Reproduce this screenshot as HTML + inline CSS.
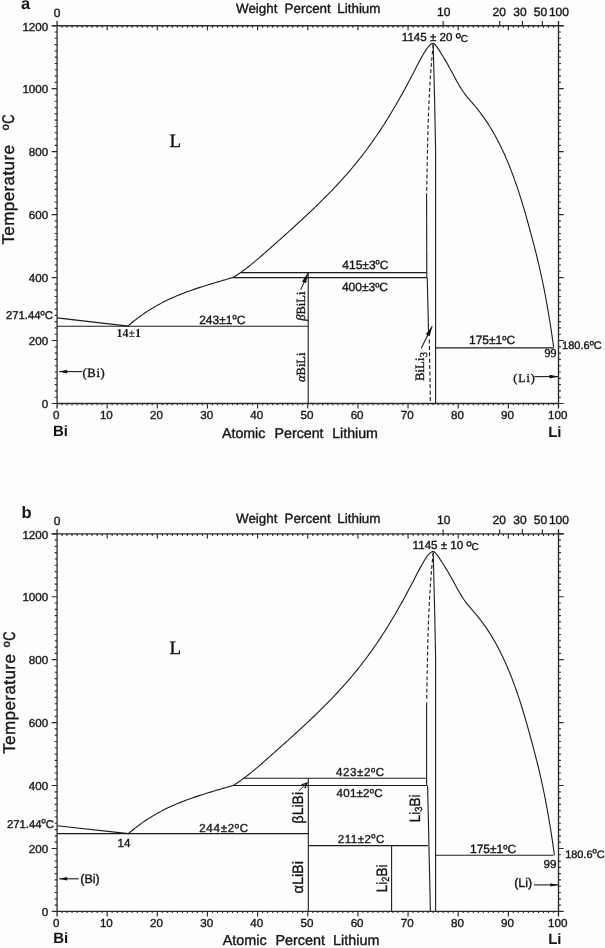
<!DOCTYPE html>
<html><head><meta charset="utf-8"><title>Bi-Li phase diagram</title>
<style>
html,body{margin:0;padding:0;background:#fdfdfd;width:605px;height:948px;overflow:hidden}
svg{display:block}
text{fill:#141414;stroke:#141414;stroke-width:0.36px;text-rendering:geometricPrecision}
text[font-weight=bold]{stroke-width:0}
</style>
</head><body>
<svg width="605" height="948" viewBox="0 0 605 948" font-family="Liberation Sans, Arial, sans-serif">
<rect width="605" height="948" fill="#fdfdfd"/>
<g stroke="#2b2b2b" fill="none">
<path d="M57.1,21.1 L57.1,408.5" stroke="#5c5c5c" stroke-width="1.7"/>
<path d="M558.5,21.1 L558.5,408.5 M51.7,25.7 L563.7,25.7 M57,403.5 L558.5,403.5" stroke-width="1.35"/>
<path d="M51.7,403.5 L57,403.5 M558.5,403.5 L563.7,403.5 M54.7,397.2 L57,397.2 M558.5,397.2 L560.9,397.2 M54.7,390.91 L57,390.91 M558.5,390.91 L560.9,390.91 M54.7,384.61 L57,384.61 M558.5,384.61 L560.9,384.61 M54.7,378.31 L57,378.31 M558.5,378.31 L560.9,378.31 M54.7,372.02 L57,372.02 M558.5,372.02 L560.9,372.02 M54.7,365.72 L57,365.72 M558.5,365.72 L560.9,365.72 M54.7,359.42 L57,359.42 M558.5,359.42 L560.9,359.42 M54.7,353.13 L57,353.13 M558.5,353.13 L560.9,353.13 M54.7,346.83 L57,346.83 M558.5,346.83 L560.9,346.83 M51.7,340.53 L57,340.53 M558.5,340.53 L563.7,340.53 M54.7,334.24 L57,334.24 M558.5,334.24 L560.9,334.24 M54.7,327.94 L57,327.94 M558.5,327.94 L560.9,327.94 M54.7,321.64 L57,321.64 M558.5,321.64 L560.9,321.64 M54.7,315.35 L57,315.35 M558.5,315.35 L560.9,315.35 M54.7,309.05 L57,309.05 M558.5,309.05 L560.9,309.05 M54.7,302.75 L57,302.75 M558.5,302.75 L560.9,302.75 M54.7,296.46 L57,296.46 M558.5,296.46 L560.9,296.46 M54.7,290.16 L57,290.16 M558.5,290.16 L560.9,290.16 M54.7,283.86 L57,283.86 M558.5,283.86 L560.9,283.86 M51.7,277.57 L57,277.57 M558.5,277.57 L563.7,277.57 M54.7,271.27 L57,271.27 M558.5,271.27 L560.9,271.27 M54.7,264.97 L57,264.97 M558.5,264.97 L560.9,264.97 M54.7,258.68 L57,258.68 M558.5,258.68 L560.9,258.68 M54.7,252.38 L57,252.38 M558.5,252.38 L560.9,252.38 M54.7,246.08 L57,246.08 M558.5,246.08 L560.9,246.08 M54.7,239.79 L57,239.79 M558.5,239.79 L560.9,239.79 M54.7,233.49 L57,233.49 M558.5,233.49 L560.9,233.49 M54.7,227.19 L57,227.19 M558.5,227.19 L560.9,227.19 M54.7,220.9 L57,220.9 M558.5,220.9 L560.9,220.9 M51.7,214.6 L57,214.6 M558.5,214.6 L563.7,214.6 M54.7,208.3 L57,208.3 M558.5,208.3 L560.9,208.3 M54.7,202.01 L57,202.01 M558.5,202.01 L560.9,202.01 M54.7,195.71 L57,195.71 M558.5,195.71 L560.9,195.71 M54.7,189.41 L57,189.41 M558.5,189.41 L560.9,189.41 M54.7,183.12 L57,183.12 M558.5,183.12 L560.9,183.12 M54.7,176.82 L57,176.82 M558.5,176.82 L560.9,176.82 M54.7,170.52 L57,170.52 M558.5,170.52 L560.9,170.52 M54.7,164.23 L57,164.23 M558.5,164.23 L560.9,164.23 M54.7,157.93 L57,157.93 M558.5,157.93 L560.9,157.93 M51.7,151.63 L57,151.63 M558.5,151.63 L563.7,151.63 M54.7,145.34 L57,145.34 M558.5,145.34 L560.9,145.34 M54.7,139.04 L57,139.04 M558.5,139.04 L560.9,139.04 M54.7,132.74 L57,132.74 M558.5,132.74 L560.9,132.74 M54.7,126.45 L57,126.45 M558.5,126.45 L560.9,126.45 M54.7,120.15 L57,120.15 M558.5,120.15 L560.9,120.15 M54.7,113.85 L57,113.85 M558.5,113.85 L560.9,113.85 M54.7,107.56 L57,107.56 M558.5,107.56 L560.9,107.56 M54.7,101.26 L57,101.26 M558.5,101.26 L560.9,101.26 M54.7,94.96 L57,94.96 M558.5,94.96 L560.9,94.96 M51.7,88.67 L57,88.67 M558.5,88.67 L563.7,88.67 M54.7,82.37 L57,82.37 M558.5,82.37 L560.9,82.37 M54.7,76.07 L57,76.07 M558.5,76.07 L560.9,76.07 M54.7,69.78 L57,69.78 M558.5,69.78 L560.9,69.78 M54.7,63.48 L57,63.48 M558.5,63.48 L560.9,63.48 M54.7,57.18 L57,57.18 M558.5,57.18 L560.9,57.18 M54.7,50.89 L57,50.89 M558.5,50.89 L560.9,50.89 M54.7,44.59 L57,44.59 M558.5,44.59 L560.9,44.59 M54.7,38.29 L57,38.29 M558.5,38.29 L560.9,38.29 M54.7,32 L57,32 M558.5,32 L560.9,32 M51.7,25.7 L57,25.7 M558.5,25.7 L563.7,25.7 M62.02,403.5 L62.02,405.2 M62.02,25.7 L62.02,27.8 M67.03,403.5 L67.03,405.2 M67.03,25.7 L67.03,27.8 M72.05,403.5 L72.05,405.2 M72.05,25.7 L72.05,27.8 M77.06,403.5 L77.06,405.2 M77.06,25.7 L77.06,27.8 M82.08,403.5 L82.08,405.2 M82.08,25.7 L82.08,27.8 M87.09,403.5 L87.09,405.2 M87.09,25.7 L87.09,27.8 M92.1,403.5 L92.1,405.2 M92.1,25.7 L92.1,27.8 M97.12,403.5 L97.12,405.2 M97.12,25.7 L97.12,27.8 M102.13,403.5 L102.13,405.2 M102.13,25.7 L102.13,27.8 M107.15,403.5 L107.15,408.5 M107.15,25.7 L107.15,30.3 M112.16,403.5 L112.16,405.2 M112.16,25.7 L112.16,27.8 M117.18,403.5 L117.18,405.2 M117.18,25.7 L117.18,27.8 M122.19,403.5 L122.19,405.2 M122.19,25.7 L122.19,27.8 M127.21,403.5 L127.21,405.2 M127.21,25.7 L127.21,27.8 M132.22,403.5 L132.22,405.2 M132.22,25.7 L132.22,27.8 M137.24,403.5 L137.24,405.2 M137.24,25.7 L137.24,27.8 M142.25,403.5 L142.25,405.2 M142.25,25.7 L142.25,27.8 M147.27,403.5 L147.27,405.2 M147.27,25.7 L147.27,27.8 M152.28,403.5 L152.28,405.2 M152.28,25.7 L152.28,27.8 M157.3,403.5 L157.3,408.5 M157.3,25.7 L157.3,30.3 M162.31,403.5 L162.31,405.2 M162.31,25.7 L162.31,27.8 M167.33,403.5 L167.33,405.2 M167.33,25.7 L167.33,27.8 M172.34,403.5 L172.34,405.2 M172.34,25.7 L172.34,27.8 M177.36,403.5 L177.36,405.2 M177.36,25.7 L177.36,27.8 M182.38,403.5 L182.38,405.2 M182.38,25.7 L182.38,27.8 M187.39,403.5 L187.39,405.2 M187.39,25.7 L187.39,27.8 M192.41,403.5 L192.41,405.2 M192.41,25.7 L192.41,27.8 M197.42,403.5 L197.42,405.2 M197.42,25.7 L197.42,27.8 M202.44,403.5 L202.44,405.2 M202.44,25.7 L202.44,27.8 M207.45,403.5 L207.45,408.5 M207.45,25.7 L207.45,30.3 M212.47,403.5 L212.47,405.2 M212.47,25.7 L212.47,27.8 M217.48,403.5 L217.48,405.2 M217.48,25.7 L217.48,27.8 M222.5,403.5 L222.5,405.2 M222.5,25.7 L222.5,27.8 M227.51,403.5 L227.51,405.2 M227.51,25.7 L227.51,27.8 M232.53,403.5 L232.53,405.2 M232.53,25.7 L232.53,27.8 M237.54,403.5 L237.54,405.2 M237.54,25.7 L237.54,27.8 M242.56,403.5 L242.56,405.2 M242.56,25.7 L242.56,27.8 M247.57,403.5 L247.57,405.2 M247.57,25.7 L247.57,27.8 M252.59,403.5 L252.59,405.2 M252.59,25.7 L252.59,27.8 M257.6,403.5 L257.6,408.5 M257.6,25.7 L257.6,30.3 M262.62,403.5 L262.62,405.2 M262.62,25.7 L262.62,27.8 M267.63,403.5 L267.63,405.2 M267.63,25.7 L267.63,27.8 M272.64,403.5 L272.64,405.2 M272.64,25.7 L272.64,27.8 M277.66,403.5 L277.66,405.2 M277.66,25.7 L277.66,27.8 M282.68,403.5 L282.68,405.2 M282.68,25.7 L282.68,27.8 M287.69,403.5 L287.69,405.2 M287.69,25.7 L287.69,27.8 M292.71,403.5 L292.71,405.2 M292.71,25.7 L292.71,27.8 M297.72,403.5 L297.72,405.2 M297.72,25.7 L297.72,27.8 M302.74,403.5 L302.74,405.2 M302.74,25.7 L302.74,27.8 M307.75,403.5 L307.75,408.5 M307.75,25.7 L307.75,30.3 M312.76,403.5 L312.76,405.2 M312.76,25.7 L312.76,27.8 M317.78,403.5 L317.78,405.2 M317.78,25.7 L317.78,27.8 M322.8,403.5 L322.8,405.2 M322.8,25.7 L322.8,27.8 M327.81,403.5 L327.81,405.2 M327.81,25.7 L327.81,27.8 M332.82,403.5 L332.82,405.2 M332.82,25.7 L332.82,27.8 M337.84,403.5 L337.84,405.2 M337.84,25.7 L337.84,27.8 M342.86,403.5 L342.86,405.2 M342.86,25.7 L342.86,27.8 M347.87,403.5 L347.87,405.2 M347.87,25.7 L347.87,27.8 M352.88,403.5 L352.88,405.2 M352.88,25.7 L352.88,27.8 M357.9,403.5 L357.9,408.5 M357.9,25.7 L357.9,30.3 M362.92,403.5 L362.92,405.2 M362.92,25.7 L362.92,27.8 M367.93,403.5 L367.93,405.2 M367.93,25.7 L367.93,27.8 M372.94,403.5 L372.94,405.2 M372.94,25.7 L372.94,27.8 M377.96,403.5 L377.96,405.2 M377.96,25.7 L377.96,27.8 M382.98,403.5 L382.98,405.2 M382.98,25.7 L382.98,27.8 M387.99,403.5 L387.99,405.2 M387.99,25.7 L387.99,27.8 M393,403.5 L393,405.2 M393,25.7 L393,27.8 M398.02,403.5 L398.02,405.2 M398.02,25.7 L398.02,27.8 M403.04,403.5 L403.04,405.2 M403.04,25.7 L403.04,27.8 M408.05,403.5 L408.05,408.5 M408.05,25.7 L408.05,30.3 M413.06,403.5 L413.06,405.2 M413.06,25.7 L413.06,27.8 M418.08,403.5 L418.08,405.2 M418.08,25.7 L418.08,27.8 M423.1,403.5 L423.1,405.2 M423.1,25.7 L423.1,27.8 M428.11,403.5 L428.11,405.2 M428.11,25.7 L428.11,27.8 M433.12,403.5 L433.12,405.2 M433.12,25.7 L433.12,27.8 M438.14,403.5 L438.14,405.2 M438.14,25.7 L438.14,27.8 M443.15,403.5 L443.15,405.2 M443.15,25.7 L443.15,27.8 M448.17,403.5 L448.17,405.2 M448.17,25.7 L448.17,27.8 M453.19,403.5 L453.19,405.2 M453.19,25.7 L453.19,27.8 M458.2,403.5 L458.2,408.5 M458.2,25.7 L458.2,30.3 M463.21,403.5 L463.21,405.2 M463.21,25.7 L463.21,27.8 M468.23,403.5 L468.23,405.2 M468.23,25.7 L468.23,27.8 M473.25,403.5 L473.25,405.2 M473.25,25.7 L473.25,27.8 M478.26,403.5 L478.26,405.2 M478.26,25.7 L478.26,27.8 M483.27,403.5 L483.27,405.2 M483.27,25.7 L483.27,27.8 M488.29,403.5 L488.29,405.2 M488.29,25.7 L488.29,27.8 M493.31,403.5 L493.31,405.2 M493.31,25.7 L493.31,27.8 M498.32,403.5 L498.32,405.2 M498.32,25.7 L498.32,27.8 M503.33,403.5 L503.33,405.2 M503.33,25.7 L503.33,27.8 M508.35,403.5 L508.35,408.5 M508.35,25.7 L508.35,30.3 M513.37,403.5 L513.37,405.2 M513.37,25.7 L513.37,27.8 M518.38,403.5 L518.38,405.2 M518.38,25.7 L518.38,27.8 M523.39,403.5 L523.39,405.2 M523.39,25.7 L523.39,27.8 M528.41,403.5 L528.41,405.2 M528.41,25.7 L528.41,27.8 M533.42,403.5 L533.42,405.2 M533.42,25.7 L533.42,27.8 M538.44,403.5 L538.44,405.2 M538.44,25.7 L538.44,27.8 M543.45,403.5 L543.45,405.2 M543.45,25.7 L543.45,27.8 M548.47,403.5 L548.47,405.2 M548.47,25.7 L548.47,27.8 M553.49,403.5 L553.49,405.2 M553.49,25.7 L553.49,27.8 M443.1,21.1 L443.1,25.7 M499.69,21.1 L499.69,25.7 M522.43,21.1 L522.43,25.7 M542.38,21.1 L542.38,25.7" stroke-width="1.15"/>
</g>
<text x="48.2" y="407.8" font-size="11.6" text-anchor="end">0</text>
<text x="48.2" y="344.83" font-size="11.6" text-anchor="end">200</text>
<text x="48.2" y="281.87" font-size="11.6" text-anchor="end">400</text>
<text x="48.2" y="218.9" font-size="11.6" text-anchor="end">600</text>
<text x="48.2" y="155.93" font-size="11.6" text-anchor="end">800</text>
<text x="48.2" y="92.97" font-size="11.6" text-anchor="end">1000</text>
<text x="48.2" y="30.8" font-size="11.6" text-anchor="end">1200</text>
<text x="56.2" y="419" font-size="11.6" text-anchor="middle">0</text>
<text x="106.35" y="419" font-size="11.6" text-anchor="middle">10</text>
<text x="156.5" y="419" font-size="11.6" text-anchor="middle">20</text>
<text x="206.65" y="419" font-size="11.6" text-anchor="middle">30</text>
<text x="256.8" y="419" font-size="11.6" text-anchor="middle">40</text>
<text x="306.95" y="419" font-size="11.6" text-anchor="middle">50</text>
<text x="357.1" y="419" font-size="11.6" text-anchor="middle">60</text>
<text x="407.25" y="419" font-size="11.6" text-anchor="middle">70</text>
<text x="457.4" y="419" font-size="11.6" text-anchor="middle">80</text>
<text x="507.55" y="419" font-size="11.6" text-anchor="middle">90</text>
<text x="557.7" y="419" font-size="11.6" text-anchor="middle">100</text>
<text x="57" y="17.3" font-size="12" text-anchor="middle">0</text>
<text x="443.7" y="15.5" font-size="12" text-anchor="middle">10</text>
<text x="499.3" y="15.5" font-size="12" text-anchor="middle">20</text>
<text x="519.9" y="15.5" font-size="12" text-anchor="middle">30</text>
<text x="540.4" y="15.5" font-size="12" text-anchor="middle">50</text>
<text x="558.9" y="15.5" font-size="12" text-anchor="middle">100</text>
<text y="13.3" font-size="13.4"><tspan x="236">Weight</tspan><tspan x="284.6">Percent</tspan><tspan x="337.3">Lithium</tspan></text>
<text y="437.6" font-size="14.2"><tspan x="222">Atomic</tspan><tspan x="274.6">Percent</tspan><tspan x="332.2">Lithium</tspan></text>
<text x="21" y="9.3" font-size="16.5" font-weight="bold">a</text>
<text x="53" y="435.6" font-size="15" font-weight="bold">Bi</text>
<text x="548.2" y="436.6" font-size="15" font-weight="bold">Li</text>
<text transform="translate(14.4,244.6) rotate(-90)" font-size="17" letter-spacing="0.42">Temperature</text>
<text transform="translate(14.4,130.3) rotate(-90)" font-size="17"><tspan font-size="16">&#186;</tspan><tspan dx="0.6" textLength="9.2" lengthAdjust="spacingAndGlyphs">C</tspan></text>
<text x="169.6" y="147" font-size="19" font-family="Liberation Serif, Times New Roman, serif">L</text>
<g stroke="#1c1c1c" fill="none" stroke-linejoin="round">
<path d="M127.9,326.1 L129.4,324.71 L130.9,323.46 L132.4,322.23 L133.9,321.03 L135.4,319.85 L136.9,318.7 L138.4,317.58 L139.9,316.48 L141.4,315.4 L142.9,314.35 L144.4,313.32 L145.9,312.31 L147.4,311.33 L148.9,310.36 L150.4,309.42 L151.9,308.5 L153.4,307.6 L154.9,306.72 L156.4,305.86 L157.9,305.01 L159.4,304.19 L160.9,303.38 L162.4,302.6 L163.9,301.83 L165.4,301.07 L166.9,300.34 L168.4,299.62 L169.9,298.91 L171.4,298.22 L172.9,297.55 L174.4,296.88 L175.9,296.24 L177.4,295.6 L178.9,294.98 L180.4,294.37 L181.9,293.78 L183.4,293.19 L184.9,292.62 L186.4,292.05 L187.9,291.5 L189.4,290.96 L190.9,290.42 L192.4,289.9 L193.9,289.38 L195.4,288.87 L196.9,288.37 L198.4,287.88 L199.9,287.39 L201.4,286.91 L202.9,286.43 L204.4,285.96 L205.9,285.5 L207.4,285.04 L208.9,284.58 L210.4,284.13 L211.9,283.68 L213.4,283.23 L214.9,282.79 L216.4,282.34 L217.9,281.9 L219.4,281.46 L220.9,281.02 L222.4,280.58 L223.9,280.14 L225.4,279.7 L226.9,279.25 L228.4,278.81 L229.9,278.36 L231.4,277.91 L232.5,277.6 L234,276.87 L235.5,275.94 L237,274.97 L238.5,273.98 L240,272.95 L241.5,271.9 L243,270.82 L244.5,269.71 L246,268.59 L247.5,267.44 L249,266.26 L250.5,265.07 L252,263.86 L253.5,262.64 L255,261.39 L256.5,260.14 L258,258.86 L259.5,257.58 L261,256.29 L262.5,254.98 L264,253.67 L265.5,252.35 L267,251.02 L268.5,249.69 L270,248.36 L271.5,247.02 L273,245.69 L274.5,244.35 L276,243.01 L277.5,241.68 L279,240.34 L280.5,239 L282,237.66 L283.5,236.32 L285,234.98 L286.5,233.63 L288,232.29 L289.5,230.94 L291,229.58 L292.5,228.23 L294,226.87 L295.5,225.51 L297,224.14 L298.5,222.77 L300,221.39 L301.5,220.01 L303,218.62 L304.5,217.23 L306,215.83 L307.5,214.42 L309,213.01 L310.5,211.59 L312,210.17 L313.5,208.74 L315,207.29 L316.5,205.85 L318,204.39 L319.5,202.92 L321,201.45 L322.5,199.96 L324,198.47 L325.5,196.96 L327,195.45 L328.5,193.92 L330,192.38 L331.5,190.83 L333,189.27 L334.5,187.69 L336,186.1 L337.5,184.5 L339,182.88 L340.5,181.24 L342,179.59 L343.5,177.92 L345,176.23 L346.5,174.52 L348,172.8 L349.5,171.06 L351,169.3 L352.5,167.51 L354,165.71 L355.5,163.89 L357,162.04 L358.5,160.17 L360,158.28 L361.5,156.37 L363,154.43 L364.5,152.47 L366,150.48 L367.5,148.46 L369,146.42 L370.5,144.36 L372,142.26 L373.5,140.14 L375,137.99 L376.5,135.81 L378,133.6 L379.5,131.36 L381,129.09 L382.5,126.79 L384,124.46 L385.5,122.09 L387,119.7 L388.5,117.27 L390,114.82 L391.5,112.33 L393,109.81 L394.5,107.27 L396,104.69 L397.5,102.09 L399,99.46 L400.5,96.8 L402,94.11 L403.5,91.4 L405,88.65 L406.5,85.88 L408,83.08 L409.5,80.26 L411,77.41 L412.5,74.53 L414,71.63 L415.5,68.72 L417,65.81 L418.5,62.94 L420,60.13 L421.5,57.39 L423,54.76 L424.5,52.25 L426,49.9 L427.5,47.77 L429,45.98 L430.5,44.62 L432,43.71 L433.1,43.3" stroke-width="1.1"/>
<path d="M433.1,43.3 L434.1,43.85 L435.1,44.73 L436.1,45.86 L437.1,47.17 L438.1,48.63 L439.1,50.17 L440.1,51.76 L441.1,53.35 L442.1,54.95 L443.1,56.57 L444.1,58.22 L445.1,59.89 L446.1,61.6 L447.1,63.34 L448.1,65.13 L449.1,66.94 L450.1,68.78 L451.1,70.64 L452.1,72.5 L453.1,74.36 L454.1,76.22 L455.1,78.07 L456.1,79.9 L457.1,81.7 L458.1,83.46 L459.1,85.19 L460.1,86.87 L461.1,88.49 L462.1,90.05 L463.1,91.54 L464.1,92.95 L465.1,94.3 L466.1,95.6 L467.1,96.84 L468.1,98.05 L469.1,99.23 L470.1,100.4 L471.1,101.55 L472.1,102.7 L473.1,103.86 L474.1,105.03 L475.1,106.23 L476.1,107.44 L477.1,108.68 L478.1,109.93 L479.1,111.21 L480.1,112.51 L481.1,113.84 L482.1,115.19 L483.1,116.57 L484.1,117.98 L485.1,119.42 L486.1,120.88 L487.1,122.38 L488.1,123.91 L489.1,125.47 L490.1,127.07 L491.1,128.7 L492.1,130.37 L493.1,132.07 L494.1,133.81 L495.1,135.6 L496.1,137.42 L497.1,139.29 L498.1,141.19 L499.1,143.14 L500.1,145.14 L501.1,147.18 L502.1,149.27 L503.1,151.41 L504.1,153.59 L505.1,155.82 L506.1,158.11 L507.1,160.45 L508.1,162.84 L509.1,165.28 L510.1,167.78 L511.1,170.34 L512.1,172.95 L513.1,175.63 L514.1,178.36 L515.1,181.15 L516.1,184 L517.1,186.92 L518.1,189.9 L519.1,192.95 L520.1,196.06 L521.1,199.24 L522.1,202.49 L523.1,205.8 L524.1,209.19 L525.1,212.65 L526.1,216.18 L527.1,219.76 L528.1,223.4 L529.1,227.07 L530.1,230.76 L531.1,234.47 L532.1,238.18 L533.1,241.92 L534.1,245.7 L535.1,249.55 L536.1,253.47 L537.1,257.5 L538.1,261.63 L539.1,265.88 L540.1,270.25 L541.1,274.77 L542.1,279.43 L543.1,284.25 L544.1,289.23 L545.1,294.4 L546.1,299.75 L547.1,305.3 L548.1,311.05 L549.1,317.03 L550.1,323.24 L551.1,329.69 L552.1,336.43 L553.1,343.45 L553.6,347.3" stroke-width="1.1"/>
<path d="M57,317.9 L128.2,326.1" stroke-width="1.1"/>
<path d="M57,326.2 L308.2,326.2" stroke-width="1.1"/>
<path d="M232.5,277.6 L426.9,277.6" stroke-width="1.1"/>
<path d="M240.5,272.6 L426.9,272.6" stroke-width="1.1"/>
<path d="M308.2,272.6 L308.2,403.5" stroke-width="1.1"/>
<path d="M435.6,347.9 L553.6,347.9" stroke-width="1.1"/>
<path d="M433.1,44.6 L433.12,45.6 L433.01,46.6 L432.91,47.6 L432.81,48.6 L432.7,49.6 L432.6,50.6 L432.51,51.6 L432.41,52.6 L432.31,53.6 L432.22,54.6 L432.12,55.6 L432.03,56.6 L431.94,57.6 L431.85,58.6 L431.76,59.6 L431.67,60.6 L431.59,61.6 L431.5,62.6 L431.42,63.6 L431.34,64.6 L431.26,65.6 L431.17,66.6 L431.1,67.6 L431.02,68.6 L430.94,69.6 L430.87,70.6 L430.79,71.6 L430.72,72.6 L430.64,73.6 L430.57,74.6 L430.5,75.6 L430.43,76.6 L430.37,77.6 L430.3,78.6 L430.23,79.6 L430.17,80.6 L430.1,81.6 L430.04,82.6 L429.98,83.6 L429.92,84.6 L429.85,85.6 L429.8,86.6 L429.74,87.6 L429.68,88.6 L429.62,89.6 L429.57,90.6 L429.51,91.6 L429.46,92.6 L429.41,93.6 L429.35,94.6 L429.3,95.6 L429.25,96.6 L429.2,97.6 L429.15,98.6 L429.1,99.6 L429.06,100.6 L429.01,101.6 L428.96,102.6 L428.92,103.6 L428.88,104.6 L428.83,105.6 L428.79,106.6 L428.75,107.6 L428.71,108.6 L428.67,109.6 L428.63,110.6 L428.59,111.6 L428.55,112.6 L428.51,113.6 L428.47,114.6 L428.44,115.6 L428.4,116.6 L428.36,117.6 L428.33,118.6 L428.29,119.6 L428.26,120.6 L428.23,121.6 L428.2,122.6 L428.16,123.6 L428.13,124.6 L428.1,125.6 L428.07,126.6 L428.04,127.6 L428.01,128.6 L427.98,129.6 L427.95,130.6 L427.93,131.6 L427.9,132.6 L427.87,133.6 L427.84,134.6 L427.82,135.6 L427.79,136.6 L427.77,137.6 L427.74,138.6 L427.72,139.6 L427.69,140.6 L427.67,141.6 L427.65,142.6 L427.62,143.6 L427.6,144.6 L427.58,145.6 L427.55,146.6 L427.53,147.6 L427.51,148.6 L427.49,149.6 L427.47,150.6 L427.45,151.6 L427.43,152.6 L427.4,153.6 L427.38,154.6 L427.36,155.6 L427.34,156.6 L427.32,157.6 L427.31,158.6 L427.29,159.6 L427.27,160.6 L427.25,161.6 L427.23,162.6 L427.21,163.6 L427.19,164.6 L427.17,165.6 L427.15,166.6 L427.14,167.6 L427.12,168.6 L427.1,169.6 L427.08,170.6 L427.06,171.6 L427.04,172.6 L427.03,173.6 L427.01,174.6 L426.99,175.6 L426.97,176.6 L426.95,177.6 L426.93,178.6 L426.92,179.6 L426.9,180.6 L426.88,181.6 L426.86,182.6 L426.84,183.6 L426.82,184.6 L426.8,185.6 L426.78,186.6 L426.76,187.6 L426.75,188.6 L426.73,189.6 L426.71,190.6 L426.69,191.6 L426.67,192.6 L426.65,193.6 L426.63,194.6 L426.6,195.6 L426.6,196" stroke-width="1.1" stroke-dasharray="3.8 2.4"/>
<path d="M426.6,196 L426.8,277.6" stroke-width="1.1"/>
<path d="M427.2,277.6 L428.6,333" stroke-width="1.1"/>
<path d="M429.3,339.5 L430.4,403.5" stroke-width="1.1" stroke-dasharray="4 2.4"/>
<path d="M433.2,44.2 L434.6,100 L435.6,150 L435.6,403.5" stroke-width="1.1"/>
</g>
<g stroke="#1c1c1c" fill="none">
<path d="M82.3,371.6 L59.2,371.6" stroke-width="1.1"/>
<path d="M59.2,371.6 L67.2,369.8 L67.2,373.4 Z" fill="#111" stroke="none"/>
<path d="M534.3,376.6 L558.3,376.6" stroke-width="1.1"/>
<path d="M558.3,376.6 L549.5,378.5 L549.5,374.7 Z" fill="#111" stroke="none"/>
<path d="M300.8,289.6 L308,273.1" stroke-width="1.1"/>
<path d="M308,273.1 L306.02,283.15 L301.98,281.39 Z" fill="#111" stroke="none"/>
<path d="M421.1,348.5 L432.2,326.3" stroke-width="1.1"/>
<path d="M432.2,326.3 L429.7,336.23 L425.76,334.26 Z" fill="#111" stroke="none"/>
</g>
<text x="401.8" y="40.7" font-size="11.6">1145 &#177; 20 <tspan font-size="14" dy="2">&#186;</tspan><tspan font-size="10" dy="-1">C</tspan></text>
<text x="342.3" y="268.5" font-size="12">415&#177;3<tspan font-size="11.4" dy="-0.4">&#186;</tspan><tspan dy="0.4">C</tspan></text>
<text x="341.9" y="291" font-size="12">400&#177;3<tspan font-size="11.4" dy="-0.4">&#186;</tspan><tspan dy="0.4">C</tspan></text>
<text x="199.2" y="323.6" font-size="12">243&#177;1<tspan font-size="11.4" dy="-0.4">&#186;</tspan><tspan dy="0.4">C</tspan></text>
<text x="116.5" y="336.8" font-size="12" font-family="Liberation Serif, Times New Roman, serif" font-weight="bold">14&#177;1</text>
<text x="5.9" y="318.9" font-size="11.3">271.44<tspan font-size="11.4" dy="-0.4">&#186;</tspan><tspan dy="0.4">C</tspan></text>
<text x="82.4" y="376.8" font-size="12.6" font-family="Liberation Serif, Times New Roman, serif" letter-spacing="0.7">(Bi)</text>
<text transform="translate(305.3,320.8) rotate(-90)" font-size="12.5" font-family="Liberation Serif, Times New Roman, serif"><tspan font-style="italic">&#946;</tspan>BiLi</text>
<text transform="translate(305.3,382) rotate(-90)" font-size="12.5" font-family="Liberation Serif, Times New Roman, serif"><tspan font-style="italic">&#945;</tspan>BiLi</text>
<text transform="translate(424.1,381) rotate(-90)" font-size="12.8" font-family="Liberation Serif, Times New Roman, serif">BiLi<tspan font-size="10.5" dy="3.2" dx="0.3">3</tspan></text>
<text x="469" y="344.4" font-size="12">175&#177;1<tspan font-size="11.4" dy="-0.4">&#186;</tspan><tspan dy="0.4">C</tspan></text>
<text x="544.5" y="357" font-size="12" font-family="Liberation Serif, Times New Roman, serif">99</text>
<text x="562.1" y="349" font-size="11">180.6<tspan font-size="11.4" dy="-0.4">&#186;</tspan><tspan dy="0.4">C</tspan></text>
<text x="513.3" y="381.6" font-size="12" font-family="Liberation Serif, Times New Roman, serif" letter-spacing="0.9">(Li)</text>
<g stroke="#2b2b2b" fill="none">
<path d="M57.1,529.2 L57.1,916.4" stroke="#5c5c5c" stroke-width="1.7"/>
<path d="M558.5,529.2 L558.5,916.4 M51.7,533.8 L563.7,533.8 M57,911.4 L558.5,911.4" stroke-width="1.35"/>
<path d="M51.7,911.4 L57,911.4 M558.5,911.4 L563.7,911.4 M54.7,905.11 L57,905.11 M558.5,905.11 L560.9,905.11 M54.7,898.81 L57,898.81 M558.5,898.81 L560.9,898.81 M54.7,892.52 L57,892.52 M558.5,892.52 L560.9,892.52 M54.7,886.23 L57,886.23 M558.5,886.23 L560.9,886.23 M54.7,879.93 L57,879.93 M558.5,879.93 L560.9,879.93 M54.7,873.64 L57,873.64 M558.5,873.64 L560.9,873.64 M54.7,867.35 L57,867.35 M558.5,867.35 L560.9,867.35 M54.7,861.05 L57,861.05 M558.5,861.05 L560.9,861.05 M54.7,854.76 L57,854.76 M558.5,854.76 L560.9,854.76 M51.7,848.47 L57,848.47 M558.5,848.47 L563.7,848.47 M54.7,842.17 L57,842.17 M558.5,842.17 L560.9,842.17 M54.7,835.88 L57,835.88 M558.5,835.88 L560.9,835.88 M54.7,829.59 L57,829.59 M558.5,829.59 L560.9,829.59 M54.7,823.29 L57,823.29 M558.5,823.29 L560.9,823.29 M54.7,817 L57,817 M558.5,817 L560.9,817 M54.7,810.71 L57,810.71 M558.5,810.71 L560.9,810.71 M54.7,804.41 L57,804.41 M558.5,804.41 L560.9,804.41 M54.7,798.12 L57,798.12 M558.5,798.12 L560.9,798.12 M54.7,791.83 L57,791.83 M558.5,791.83 L560.9,791.83 M51.7,785.53 L57,785.53 M558.5,785.53 L563.7,785.53 M54.7,779.24 L57,779.24 M558.5,779.24 L560.9,779.24 M54.7,772.95 L57,772.95 M558.5,772.95 L560.9,772.95 M54.7,766.65 L57,766.65 M558.5,766.65 L560.9,766.65 M54.7,760.36 L57,760.36 M558.5,760.36 L560.9,760.36 M54.7,754.07 L57,754.07 M558.5,754.07 L560.9,754.07 M54.7,747.77 L57,747.77 M558.5,747.77 L560.9,747.77 M54.7,741.48 L57,741.48 M558.5,741.48 L560.9,741.48 M54.7,735.19 L57,735.19 M558.5,735.19 L560.9,735.19 M54.7,728.89 L57,728.89 M558.5,728.89 L560.9,728.89 M51.7,722.6 L57,722.6 M558.5,722.6 L563.7,722.6 M54.7,716.31 L57,716.31 M558.5,716.31 L560.9,716.31 M54.7,710.01 L57,710.01 M558.5,710.01 L560.9,710.01 M54.7,703.72 L57,703.72 M558.5,703.72 L560.9,703.72 M54.7,697.43 L57,697.43 M558.5,697.43 L560.9,697.43 M54.7,691.13 L57,691.13 M558.5,691.13 L560.9,691.13 M54.7,684.84 L57,684.84 M558.5,684.84 L560.9,684.84 M54.7,678.55 L57,678.55 M558.5,678.55 L560.9,678.55 M54.7,672.25 L57,672.25 M558.5,672.25 L560.9,672.25 M54.7,665.96 L57,665.96 M558.5,665.96 L560.9,665.96 M51.7,659.67 L57,659.67 M558.5,659.67 L563.7,659.67 M54.7,653.37 L57,653.37 M558.5,653.37 L560.9,653.37 M54.7,647.08 L57,647.08 M558.5,647.08 L560.9,647.08 M54.7,640.79 L57,640.79 M558.5,640.79 L560.9,640.79 M54.7,634.49 L57,634.49 M558.5,634.49 L560.9,634.49 M54.7,628.2 L57,628.2 M558.5,628.2 L560.9,628.2 M54.7,621.91 L57,621.91 M558.5,621.91 L560.9,621.91 M54.7,615.61 L57,615.61 M558.5,615.61 L560.9,615.61 M54.7,609.32 L57,609.32 M558.5,609.32 L560.9,609.32 M54.7,603.03 L57,603.03 M558.5,603.03 L560.9,603.03 M51.7,596.73 L57,596.73 M558.5,596.73 L563.7,596.73 M54.7,590.44 L57,590.44 M558.5,590.44 L560.9,590.44 M54.7,584.15 L57,584.15 M558.5,584.15 L560.9,584.15 M54.7,577.85 L57,577.85 M558.5,577.85 L560.9,577.85 M54.7,571.56 L57,571.56 M558.5,571.56 L560.9,571.56 M54.7,565.27 L57,565.27 M558.5,565.27 L560.9,565.27 M54.7,558.97 L57,558.97 M558.5,558.97 L560.9,558.97 M54.7,552.68 L57,552.68 M558.5,552.68 L560.9,552.68 M54.7,546.39 L57,546.39 M558.5,546.39 L560.9,546.39 M54.7,540.09 L57,540.09 M558.5,540.09 L560.9,540.09 M51.7,533.8 L57,533.8 M558.5,533.8 L563.7,533.8 M62.02,911.4 L62.02,913.1 M62.02,533.8 L62.02,535.9 M67.03,911.4 L67.03,913.1 M67.03,533.8 L67.03,535.9 M72.05,911.4 L72.05,913.1 M72.05,533.8 L72.05,535.9 M77.06,911.4 L77.06,913.1 M77.06,533.8 L77.06,535.9 M82.08,911.4 L82.08,913.1 M82.08,533.8 L82.08,535.9 M87.09,911.4 L87.09,913.1 M87.09,533.8 L87.09,535.9 M92.1,911.4 L92.1,913.1 M92.1,533.8 L92.1,535.9 M97.12,911.4 L97.12,913.1 M97.12,533.8 L97.12,535.9 M102.13,911.4 L102.13,913.1 M102.13,533.8 L102.13,535.9 M107.15,911.4 L107.15,916.4 M107.15,533.8 L107.15,538.4 M112.16,911.4 L112.16,913.1 M112.16,533.8 L112.16,535.9 M117.18,911.4 L117.18,913.1 M117.18,533.8 L117.18,535.9 M122.19,911.4 L122.19,913.1 M122.19,533.8 L122.19,535.9 M127.21,911.4 L127.21,913.1 M127.21,533.8 L127.21,535.9 M132.22,911.4 L132.22,913.1 M132.22,533.8 L132.22,535.9 M137.24,911.4 L137.24,913.1 M137.24,533.8 L137.24,535.9 M142.25,911.4 L142.25,913.1 M142.25,533.8 L142.25,535.9 M147.27,911.4 L147.27,913.1 M147.27,533.8 L147.27,535.9 M152.28,911.4 L152.28,913.1 M152.28,533.8 L152.28,535.9 M157.3,911.4 L157.3,916.4 M157.3,533.8 L157.3,538.4 M162.31,911.4 L162.31,913.1 M162.31,533.8 L162.31,535.9 M167.33,911.4 L167.33,913.1 M167.33,533.8 L167.33,535.9 M172.34,911.4 L172.34,913.1 M172.34,533.8 L172.34,535.9 M177.36,911.4 L177.36,913.1 M177.36,533.8 L177.36,535.9 M182.38,911.4 L182.38,913.1 M182.38,533.8 L182.38,535.9 M187.39,911.4 L187.39,913.1 M187.39,533.8 L187.39,535.9 M192.41,911.4 L192.41,913.1 M192.41,533.8 L192.41,535.9 M197.42,911.4 L197.42,913.1 M197.42,533.8 L197.42,535.9 M202.44,911.4 L202.44,913.1 M202.44,533.8 L202.44,535.9 M207.45,911.4 L207.45,916.4 M207.45,533.8 L207.45,538.4 M212.47,911.4 L212.47,913.1 M212.47,533.8 L212.47,535.9 M217.48,911.4 L217.48,913.1 M217.48,533.8 L217.48,535.9 M222.5,911.4 L222.5,913.1 M222.5,533.8 L222.5,535.9 M227.51,911.4 L227.51,913.1 M227.51,533.8 L227.51,535.9 M232.53,911.4 L232.53,913.1 M232.53,533.8 L232.53,535.9 M237.54,911.4 L237.54,913.1 M237.54,533.8 L237.54,535.9 M242.56,911.4 L242.56,913.1 M242.56,533.8 L242.56,535.9 M247.57,911.4 L247.57,913.1 M247.57,533.8 L247.57,535.9 M252.59,911.4 L252.59,913.1 M252.59,533.8 L252.59,535.9 M257.6,911.4 L257.6,916.4 M257.6,533.8 L257.6,538.4 M262.62,911.4 L262.62,913.1 M262.62,533.8 L262.62,535.9 M267.63,911.4 L267.63,913.1 M267.63,533.8 L267.63,535.9 M272.64,911.4 L272.64,913.1 M272.64,533.8 L272.64,535.9 M277.66,911.4 L277.66,913.1 M277.66,533.8 L277.66,535.9 M282.68,911.4 L282.68,913.1 M282.68,533.8 L282.68,535.9 M287.69,911.4 L287.69,913.1 M287.69,533.8 L287.69,535.9 M292.71,911.4 L292.71,913.1 M292.71,533.8 L292.71,535.9 M297.72,911.4 L297.72,913.1 M297.72,533.8 L297.72,535.9 M302.74,911.4 L302.74,913.1 M302.74,533.8 L302.74,535.9 M307.75,911.4 L307.75,916.4 M307.75,533.8 L307.75,538.4 M312.76,911.4 L312.76,913.1 M312.76,533.8 L312.76,535.9 M317.78,911.4 L317.78,913.1 M317.78,533.8 L317.78,535.9 M322.8,911.4 L322.8,913.1 M322.8,533.8 L322.8,535.9 M327.81,911.4 L327.81,913.1 M327.81,533.8 L327.81,535.9 M332.82,911.4 L332.82,913.1 M332.82,533.8 L332.82,535.9 M337.84,911.4 L337.84,913.1 M337.84,533.8 L337.84,535.9 M342.86,911.4 L342.86,913.1 M342.86,533.8 L342.86,535.9 M347.87,911.4 L347.87,913.1 M347.87,533.8 L347.87,535.9 M352.88,911.4 L352.88,913.1 M352.88,533.8 L352.88,535.9 M357.9,911.4 L357.9,916.4 M357.9,533.8 L357.9,538.4 M362.92,911.4 L362.92,913.1 M362.92,533.8 L362.92,535.9 M367.93,911.4 L367.93,913.1 M367.93,533.8 L367.93,535.9 M372.94,911.4 L372.94,913.1 M372.94,533.8 L372.94,535.9 M377.96,911.4 L377.96,913.1 M377.96,533.8 L377.96,535.9 M382.98,911.4 L382.98,913.1 M382.98,533.8 L382.98,535.9 M387.99,911.4 L387.99,913.1 M387.99,533.8 L387.99,535.9 M393,911.4 L393,913.1 M393,533.8 L393,535.9 M398.02,911.4 L398.02,913.1 M398.02,533.8 L398.02,535.9 M403.04,911.4 L403.04,913.1 M403.04,533.8 L403.04,535.9 M408.05,911.4 L408.05,916.4 M408.05,533.8 L408.05,538.4 M413.06,911.4 L413.06,913.1 M413.06,533.8 L413.06,535.9 M418.08,911.4 L418.08,913.1 M418.08,533.8 L418.08,535.9 M423.1,911.4 L423.1,913.1 M423.1,533.8 L423.1,535.9 M428.11,911.4 L428.11,913.1 M428.11,533.8 L428.11,535.9 M433.12,911.4 L433.12,913.1 M433.12,533.8 L433.12,535.9 M438.14,911.4 L438.14,913.1 M438.14,533.8 L438.14,535.9 M443.15,911.4 L443.15,913.1 M443.15,533.8 L443.15,535.9 M448.17,911.4 L448.17,913.1 M448.17,533.8 L448.17,535.9 M453.19,911.4 L453.19,913.1 M453.19,533.8 L453.19,535.9 M458.2,911.4 L458.2,916.4 M458.2,533.8 L458.2,538.4 M463.21,911.4 L463.21,913.1 M463.21,533.8 L463.21,535.9 M468.23,911.4 L468.23,913.1 M468.23,533.8 L468.23,535.9 M473.25,911.4 L473.25,913.1 M473.25,533.8 L473.25,535.9 M478.26,911.4 L478.26,913.1 M478.26,533.8 L478.26,535.9 M483.27,911.4 L483.27,913.1 M483.27,533.8 L483.27,535.9 M488.29,911.4 L488.29,913.1 M488.29,533.8 L488.29,535.9 M493.31,911.4 L493.31,913.1 M493.31,533.8 L493.31,535.9 M498.32,911.4 L498.32,913.1 M498.32,533.8 L498.32,535.9 M503.33,911.4 L503.33,913.1 M503.33,533.8 L503.33,535.9 M508.35,911.4 L508.35,916.4 M508.35,533.8 L508.35,538.4 M513.37,911.4 L513.37,913.1 M513.37,533.8 L513.37,535.9 M518.38,911.4 L518.38,913.1 M518.38,533.8 L518.38,535.9 M523.39,911.4 L523.39,913.1 M523.39,533.8 L523.39,535.9 M528.41,911.4 L528.41,913.1 M528.41,533.8 L528.41,535.9 M533.42,911.4 L533.42,913.1 M533.42,533.8 L533.42,535.9 M538.44,911.4 L538.44,913.1 M538.44,533.8 L538.44,535.9 M543.45,911.4 L543.45,913.1 M543.45,533.8 L543.45,535.9 M548.47,911.4 L548.47,913.1 M548.47,533.8 L548.47,535.9 M553.49,911.4 L553.49,913.1 M553.49,533.8 L553.49,535.9 M443.1,529.2 L443.1,533.8 M499.69,529.2 L499.69,533.8 M522.43,529.2 L522.43,533.8 M542.38,529.2 L542.38,533.8" stroke-width="1.15"/>
</g>
<text x="48.2" y="915.7" font-size="11.6" text-anchor="end">0</text>
<text x="48.2" y="852.77" font-size="11.6" text-anchor="end">200</text>
<text x="48.2" y="789.83" font-size="11.6" text-anchor="end">400</text>
<text x="48.2" y="726.9" font-size="11.6" text-anchor="end">600</text>
<text x="48.2" y="663.97" font-size="11.6" text-anchor="end">800</text>
<text x="48.2" y="601.03" font-size="11.6" text-anchor="end">1000</text>
<text x="48.2" y="538.9" font-size="11.6" text-anchor="end">1200</text>
<text x="56.2" y="926.9" font-size="11.6" text-anchor="middle">0</text>
<text x="106.35" y="926.9" font-size="11.6" text-anchor="middle">10</text>
<text x="156.5" y="926.9" font-size="11.6" text-anchor="middle">20</text>
<text x="206.65" y="926.9" font-size="11.6" text-anchor="middle">30</text>
<text x="256.8" y="926.9" font-size="11.6" text-anchor="middle">40</text>
<text x="306.95" y="926.9" font-size="11.6" text-anchor="middle">50</text>
<text x="357.1" y="926.9" font-size="11.6" text-anchor="middle">60</text>
<text x="407.25" y="926.9" font-size="11.6" text-anchor="middle">70</text>
<text x="457.4" y="926.9" font-size="11.6" text-anchor="middle">80</text>
<text x="507.55" y="926.9" font-size="11.6" text-anchor="middle">90</text>
<text x="557.7" y="926.9" font-size="11.6" text-anchor="middle">100</text>
<text x="57" y="525.4" font-size="12" text-anchor="middle">0</text>
<text x="443.7" y="523.6" font-size="12" text-anchor="middle">10</text>
<text x="499.3" y="523.6" font-size="12" text-anchor="middle">20</text>
<text x="519.9" y="523.6" font-size="12" text-anchor="middle">30</text>
<text x="540.4" y="523.6" font-size="12" text-anchor="middle">50</text>
<text x="558.9" y="523.6" font-size="12" text-anchor="middle">100</text>
<text y="522.9" font-size="13.4"><tspan x="236">Weight</tspan><tspan x="284.6">Percent</tspan><tspan x="337.3">Lithium</tspan></text>
<text y="944.8" font-size="14.4"><tspan x="222.7">Atomic</tspan><tspan x="275.4">Percent</tspan><tspan x="333">Lithium</tspan></text>
<text x="21.5" y="517.9" font-size="16.5" font-weight="bold">b</text>
<text x="53.2" y="943.4" font-size="15" font-weight="bold">Bi</text>
<text x="548.2" y="944.2" font-size="15" font-weight="bold">Li</text>
<text transform="translate(14.6,753.8) rotate(-90)" font-size="17" letter-spacing="0.42">Temperature</text>
<text transform="translate(14.9,647.3) rotate(-90)" font-size="17"><tspan font-size="16">&#186;</tspan><tspan dx="0.6" textLength="9.2" lengthAdjust="spacingAndGlyphs">C</tspan></text>
<text x="169.6" y="654.4" font-size="19" font-family="Liberation Serif, Times New Roman, serif">L</text>
<g stroke="#1c1c1c" fill="none" stroke-linejoin="round">
<path d="M127.9,834.1 L129.4,832.71 L130.9,831.46 L132.4,830.23 L133.9,829.03 L135.4,827.85 L136.9,826.7 L138.4,825.58 L139.9,824.48 L141.4,823.4 L142.9,822.35 L144.4,821.32 L145.9,820.31 L147.4,819.33 L148.9,818.36 L150.4,817.42 L151.9,816.5 L153.4,815.6 L154.9,814.72 L156.4,813.86 L157.9,813.01 L159.4,812.19 L160.9,811.38 L162.4,810.6 L163.9,809.83 L165.4,809.07 L166.9,808.34 L168.4,807.62 L169.9,806.91 L171.4,806.22 L172.9,805.55 L174.4,804.88 L175.9,804.24 L177.4,803.6 L178.9,802.98 L180.4,802.37 L181.9,801.78 L183.4,801.19 L184.9,800.62 L186.4,800.05 L187.9,799.5 L189.4,798.96 L190.9,798.42 L192.4,797.9 L193.9,797.38 L195.4,796.87 L196.9,796.37 L198.4,795.88 L199.9,795.39 L201.4,794.91 L202.9,794.43 L204.4,793.96 L205.9,793.5 L207.4,793.04 L208.9,792.58 L210.4,792.13 L211.9,791.68 L213.4,791.23 L214.9,790.79 L216.4,790.34 L217.9,789.9 L219.4,789.46 L220.9,789.02 L222.4,788.58 L223.9,788.14 L225.4,787.7 L226.9,787.25 L228.4,786.81 L229.9,786.36 L231.4,785.91 L232.5,785.6 L234,784.87 L235.5,783.94 L237,782.97 L238.5,781.98 L240,780.95 L241.5,779.9 L243,778.82 L244.5,777.71 L246,776.59 L247.5,775.44 L249,774.26 L250.5,773.07 L252,771.86 L253.5,770.64 L255,769.39 L256.5,768.14 L258,766.86 L259.5,765.58 L261,764.29 L262.5,762.98 L264,761.67 L265.5,760.35 L267,759.02 L268.5,757.69 L270,756.36 L271.5,755.02 L273,753.69 L274.5,752.35 L276,751.01 L277.5,749.68 L279,748.34 L280.5,747 L282,745.66 L283.5,744.32 L285,742.98 L286.5,741.63 L288,740.29 L289.5,738.94 L291,737.58 L292.5,736.23 L294,734.87 L295.5,733.51 L297,732.14 L298.5,730.77 L300,729.39 L301.5,728.01 L303,726.62 L304.5,725.23 L306,723.83 L307.5,722.42 L309,721.01 L310.5,719.59 L312,718.17 L313.5,716.74 L315,715.29 L316.5,713.85 L318,712.39 L319.5,710.92 L321,709.45 L322.5,707.96 L324,706.47 L325.5,704.96 L327,703.45 L328.5,701.92 L330,700.38 L331.5,698.83 L333,697.27 L334.5,695.69 L336,694.1 L337.5,692.5 L339,690.88 L340.5,689.24 L342,687.59 L343.5,685.92 L345,684.23 L346.5,682.52 L348,680.8 L349.5,679.06 L351,677.3 L352.5,675.51 L354,673.71 L355.5,671.89 L357,670.04 L358.5,668.17 L360,666.28 L361.5,664.37 L363,662.43 L364.5,660.47 L366,658.48 L367.5,656.46 L369,654.42 L370.5,652.36 L372,650.26 L373.5,648.14 L375,645.99 L376.5,643.81 L378,641.6 L379.5,639.36 L381,637.09 L382.5,634.79 L384,632.46 L385.5,630.09 L387,627.7 L388.5,625.27 L390,622.82 L391.5,620.33 L393,617.81 L394.5,615.27 L396,612.69 L397.5,610.09 L399,607.46 L400.5,604.8 L402,602.11 L403.5,599.4 L405,596.65 L406.5,593.88 L408,591.08 L409.5,588.26 L411,585.41 L412.5,582.53 L414,579.63 L415.5,576.72 L417,573.81 L418.5,570.94 L420,568.13 L421.5,565.39 L423,562.76 L424.5,560.25 L426,557.9 L427.5,555.77 L429,553.98 L430.5,552.62 L432,551.71 L433.1,551.3" stroke-width="1.1"/>
<path d="M433.1,551.3 L434.14,551.85 L435.18,552.73 L436.22,553.86 L437.26,555.17 L438.3,556.63 L439.34,558.17 L440.38,559.76 L441.42,561.35 L442.46,562.95 L443.5,564.57 L444.54,566.22 L445.58,567.89 L446.62,569.6 L447.66,571.34 L448.7,573.13 L449.74,574.94 L450.78,576.78 L451.82,578.64 L452.86,580.5 L453.9,582.36 L454.9,584.22 L455.9,586.07 L456.9,587.9 L457.9,589.7 L458.9,591.46 L459.9,593.19 L460.9,594.87 L461.9,596.49 L462.9,598.05 L463.9,599.54 L464.9,600.95 L465.9,602.3 L466.9,603.6 L467.9,604.84 L468.9,606.05 L469.9,607.23 L470.9,608.4 L471.9,609.55 L472.9,610.7 L473.9,611.86 L474.9,613.03 L475.9,614.23 L476.9,615.44 L477.9,616.68 L478.9,617.93 L479.9,619.21 L480.9,620.51 L481.9,621.84 L482.9,623.19 L483.9,624.57 L484.9,625.98 L485.9,627.42 L486.9,628.88 L487.9,630.38 L488.9,631.91 L489.9,633.47 L490.9,635.07 L491.9,636.7 L492.9,638.37 L493.9,640.07 L494.9,641.81 L495.9,643.6 L496.9,645.42 L497.9,647.29 L498.9,649.19 L499.9,651.14 L500.9,653.14 L501.9,655.18 L502.9,657.27 L503.9,659.41 L504.9,661.59 L505.9,663.82 L506.9,666.11 L507.9,668.45 L508.9,670.84 L509.9,673.28 L510.9,675.78 L511.9,678.34 L512.9,680.95 L513.9,683.63 L514.9,686.36 L515.9,689.15 L516.9,692 L517.9,694.92 L518.9,697.9 L519.9,700.95 L520.9,704.06 L521.9,707.24 L522.9,710.49 L523.9,713.8 L524.9,717.19 L525.9,720.65 L526.9,724.18 L527.9,727.76 L528.9,731.4 L529.9,735.07 L530.9,738.76 L531.9,742.47 L532.9,746.18 L533.9,749.92 L534.9,753.7 L535.9,757.55 L536.9,761.47 L537.9,765.5 L538.9,769.63 L539.9,773.88 L540.9,778.25 L541.9,782.77 L542.9,787.43 L543.9,792.25 L544.9,797.23 L545.9,802.4 L546.9,807.75 L547.9,813.3 L548.9,819.05 L549.9,825.03 L550.9,831.24 L551.9,837.69 L552.9,844.43 L553.9,851.45 L554.4,855.3" stroke-width="1.1"/>
<path d="M57,825.7 L128.4,833.6" stroke-width="1.1"/>
<path d="M57,833.6 L308.3,833.6" stroke-width="1.1"/>
<path d="M232.71,785.5 L426.6,785.5" stroke-width="1.1"/>
<path d="M243.84,778.2 L426.6,778.2" stroke-width="1.1"/>
<path d="M308.3,778.2 L308.3,911.5" stroke-width="1.1"/>
<path d="M308.3,845.6 L427.8,845.6" stroke-width="1.1"/>
<path d="M391.6,845.6 L391.6,911.5" stroke-width="1.1"/>
<path d="M435.6,855.3 L553.6,855.3" stroke-width="1.1"/>
<path d="M433.1,552.6 L433.12,553.6 L433.01,554.6 L432.91,555.6 L432.81,556.6 L432.7,557.6 L432.6,558.6 L432.51,559.6 L432.41,560.6 L432.31,561.6 L432.22,562.6 L432.12,563.6 L432.03,564.6 L431.94,565.6 L431.85,566.6 L431.76,567.6 L431.67,568.6 L431.59,569.6 L431.5,570.6 L431.42,571.6 L431.34,572.6 L431.26,573.6 L431.17,574.6 L431.1,575.6 L431.02,576.6 L430.94,577.6 L430.87,578.6 L430.79,579.6 L430.72,580.6 L430.64,581.6 L430.57,582.6 L430.5,583.6 L430.43,584.6 L430.37,585.6 L430.3,586.6 L430.23,587.6 L430.17,588.6 L430.1,589.6 L430.04,590.6 L429.98,591.6 L429.92,592.6 L429.85,593.6 L429.8,594.6 L429.74,595.6 L429.68,596.6 L429.62,597.6 L429.57,598.6 L429.51,599.6 L429.46,600.6 L429.41,601.6 L429.35,602.6 L429.3,603.6 L429.25,604.6 L429.2,605.6 L429.15,606.6 L429.1,607.6 L429.06,608.6 L429.01,609.6 L428.96,610.6 L428.92,611.6 L428.88,612.6 L428.83,613.6 L428.79,614.6 L428.75,615.6 L428.71,616.6 L428.67,617.6 L428.63,618.6 L428.59,619.6 L428.55,620.6 L428.51,621.6 L428.47,622.6 L428.44,623.6 L428.4,624.6 L428.36,625.6 L428.33,626.6 L428.29,627.6 L428.26,628.6 L428.23,629.6 L428.2,630.6 L428.16,631.6 L428.13,632.6 L428.1,633.6 L428.07,634.6 L428.04,635.6 L428.01,636.6 L427.98,637.6 L427.95,638.6 L427.93,639.6 L427.9,640.6 L427.87,641.6 L427.84,642.6 L427.82,643.6 L427.79,644.6 L427.77,645.6 L427.74,646.6 L427.72,647.6 L427.69,648.6 L427.67,649.6 L427.65,650.6 L427.62,651.6 L427.6,652.6 L427.58,653.6 L427.55,654.6 L427.53,655.6 L427.51,656.6 L427.49,657.6 L427.47,658.6 L427.45,659.6 L427.43,660.6 L427.4,661.6 L427.38,662.6 L427.36,663.6 L427.34,664.6 L427.32,665.6 L427.31,666.6 L427.29,667.6 L427.27,668.6 L427.25,669.6 L427.23,670.6 L427.21,671.6 L427.19,672.6 L427.17,673.6 L427.15,674.6 L427.14,675.6 L427.12,676.6 L427.1,677.6 L427.08,678.6 L427.06,679.6 L427.04,680.6 L427.03,681.6 L427.01,682.6 L426.99,683.6 L426.97,684.6 L426.95,685.6 L426.93,686.6 L426.92,687.6 L426.9,688.6 L426.88,689.6 L426.86,690.6 L426.84,691.6 L426.82,692.6 L426.8,693.6 L426.78,694.6 L426.76,695.6 L426.75,696.6 L426.73,697.6 L426.71,698.6 L426.69,699.6 L426.67,700.6 L426.65,701.6" stroke-width="1.1" stroke-dasharray="3.8 2.4"/>
<path d="M426.6,702.5 L426.6,785.5" stroke-width="1.1"/>
<path d="M427.6,785.5 L430.4,911.5" stroke-width="1.1"/>
<path d="M433.2,552.2 L434.6,608 L435.6,658 L435.6,911.5" stroke-width="1.1"/>
</g>
<g stroke="#1c1c1c" fill="none">
<path d="M78.8,878.8 L59.2,878.8" stroke-width="1.1"/>
<path d="M59.2,878.8 L67.2,877.1 L67.2,880.5 Z" fill="#111" stroke="none"/>
<path d="M534,884.9 L558.3,884.9" stroke-width="1.1"/>
<path d="M558.3,884.9 L550.3,886.6 L550.3,883.2 Z" fill="#111" stroke="none"/>
<path d="M299.1,790.6 L306.8,783.1" stroke-width="1.0"/>
<path d="M301.5,784.9 L306.8,783.1 L305,788.3" stroke-width="1.5"/>
</g>
<text x="412.6" y="548.5" font-size="11.6">1145 &#177; 10 <tspan font-size="14" dy="2">&#186;</tspan><tspan font-size="10" dy="-1">C</tspan></text>
<text x="336" y="776.2" font-size="11.6" letter-spacing="0.55">423&#177;2<tspan font-size="11.4" dy="-0.4">&#186;</tspan><tspan dy="0.4">C</tspan></text>
<text x="336.6" y="797.4" font-size="11.6" letter-spacing="0.2">401&#177;2<tspan font-size="11.4" dy="-0.4">&#186;</tspan><tspan dy="0.4">C</tspan></text>
<text x="199.2" y="832.1" font-size="11.6" letter-spacing="0.7">244&#177;2<tspan font-size="11.4" dy="-0.4">&#186;</tspan><tspan dy="0.4">C</tspan></text>
<text x="337.8" y="842.8" font-size="11.6" letter-spacing="0.45">211&#177;2<tspan font-size="11.4" dy="-0.4">&#186;</tspan><tspan dy="0.4">C</tspan></text>
<text x="117.5" y="847.3" font-size="11.6">14</text>
<text x="6.9" y="827.8" font-size="11.3">271.44<tspan font-size="11.4" dy="-0.4">&#186;</tspan><tspan dy="0.4">C</tspan></text>
<text x="80.3" y="882.5" font-size="12.5">(Bi)</text>
<text transform="translate(302.5,823.4) rotate(-90) scale(0.935,1)" font-size="15">&#946;LiBi</text>
<text transform="translate(303,893.4) rotate(-90) scale(0.957,1)" font-size="15">&#945;LiBi</text>
<text transform="translate(387.1,892.3) rotate(-90) scale(0.9,1)" font-size="15">Li<tspan font-size="10.3" dy="1.7">2</tspan><tspan dy="-1.7">Bi</tspan></text>
<text transform="translate(420.1,822.3) rotate(-90) scale(0.9,1)" font-size="15">Li<tspan font-size="10.3" dy="1.7">3</tspan><tspan dy="-1.7">Bi</tspan></text>
<text x="470" y="853.4" font-size="12">175&#177;1<tspan font-size="11.4" dy="-0.4">&#186;</tspan><tspan dy="0.4">C</tspan></text>
<text x="543.6" y="868" font-size="11.6">99</text>
<text x="565.2" y="857.8" font-size="10.9">180.6<tspan font-size="11.4" dy="-0.4">&#186;</tspan><tspan dy="0.4">C</tspan></text>
<text x="514.2" y="887.3" font-size="12.5">(Li)</text>
</svg>
</body></html>
